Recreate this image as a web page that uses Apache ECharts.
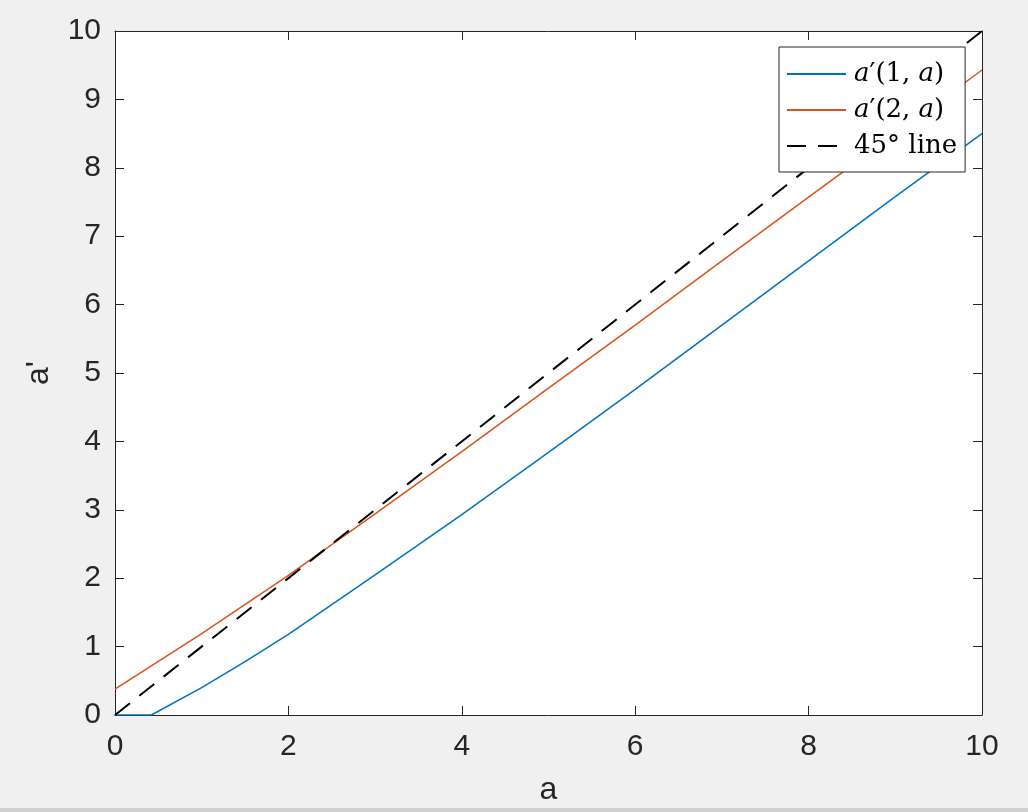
<!DOCTYPE html>
<html>
<head>
<meta charset="utf-8">
<script src="https://cdn.jsdelivr.net/npm/echarts@6/dist/echarts.min.js"></script>
<style>
html,body{margin:0;padding:0;background:#f0f0f0;}
#c{width:1028px;height:812px;}
</style>
</head>
<body>
<div id="c"></div>
<script>
// a'(1,a) policy values
const a1Points = [[0,0],[0.42,0],[1,0.4],[1.5,0.78],[2,1.18],[3,2.05],[4,2.93],[5,3.84],[6,4.76],[7,5.7],[8,6.64],[9,7.58],[10,8.5]];
// a'(2,a) policy values
const a2Points = [[0,0.38],[1,1.19],[2,2.04],[3,2.94],[4,3.85],[5,4.78],[6,5.7],[7,6.64],[8,7.57],[9,8.5],[10,9.43]];
// 45 degree line
const diagPoints = [[0,0],[10,10]];
const xTicks = [0,2,4,6,8,10];
const yTicks = [0,1,2,3,4,5,6,7,8,9,10];
const seriesNames = ["a1", "a2", "diag"];

const chart = echarts.init(document.getElementById('c'), null, {renderer:'canvas'});
const axisColor = '#262626';
const tickFont = {fontFamily:'Liberation Sans, Arial, sans-serif', fontSize:30, color:axisColor};
const serif = 'DejaVu Serif, Liberation Serif, serif';

function xAx(pos, show){
  return {
    type:'value', position:pos, min:xTicks[0], max:xTicks[xTicks.length-1], interval:2,
    axisLine:{show:true, onZero:false, lineStyle:{color:axisColor, width:1}},
    axisTick:{show:true, inside:true, length:9, lineStyle:{color:axisColor}},
    axisLabel:Object.assign({show:show, margin:17}, tickFont),
    splitLine:{show:false},
    name: show ? 'a' : '', nameLocation:'middle', nameGap:59,
    nameTextStyle:{fontFamily:'Liberation Sans, Arial, sans-serif', fontSize:32, color:axisColor}
  };
}
function yAx(pos, show){
  return {
    type:'value', position:pos, min:yTicks[0], max:yTicks[yTicks.length-1], interval:1,
    axisLine:{show:true, onZero:false, lineStyle:{color:axisColor, width:1}},
    axisTick:{show:true, inside:true, length:9, lineStyle:{color:axisColor}},
    axisLabel:Object.assign({show:show, margin:14}, tickFont),
    splitLine:{show:false},
    name: show ? "a'" : '', nameLocation:'middle', nameGap:60, nameRotate:90,
    nameTextStyle:{fontFamily:'Liberation Sans, Arial, sans-serif', fontSize:32, color:axisColor}
  };
}

const richStyles = {
  i:{fontFamily:serif, fontStyle:'italic', fontSize:26, color:'#000'},
  r:{fontFamily:serif, fontSize:26, color:'#000'}
};
const legendText = {
  a1: '{i|a}{r|′(1, }{i|a}{r|)}',
  a2: '{i|a}{r|′(2, }{i|a}{r|)}',
  diag: '{r|45° line}'
};

chart.setOption({
  animation:false,
  backgroundColor:'#f0f0f0',
  grid:{left:115, right:46, top:31, bottom:97, show:true, backgroundColor:'#ffffff', borderWidth:0, outerBoundsMode:'none', containLabel:false},
  xAxis:[xAx('bottom', true), xAx('top', false)],
  yAxis:[yAx('left', true), yAx('right', false)],
  legend:{
    show:true, orient:'vertical', left:779, top:47,
    backgroundColor:'#ffffff', borderColor:'#262626', borderWidth:1,
    padding:[14,8,13,7], itemWidth:59, itemHeight:14, itemGap:10,
    itemStyle:{opacity:0, borderWidth:0},
    textStyle:{rich:richStyles, lineHeight:26, padding:[0,0,0,3]},
    formatter:function(n){return legendText[n];},
    data:seriesNames
  },
  graphic:[{type:'rect', shape:{x:0,y:808,width:1028,height:4}, style:{fill:'#cfcfcf'}, silent:true}],
  series:[
    {name:seriesNames[0], type:'line', data:a1Points, showSymbol:false, symbol:'none',
     lineStyle:{color:'#0072BD', width:1.5}, itemStyle:{color:'#0072BD'}},
    {name:seriesNames[1], type:'line', data:a2Points, showSymbol:false, symbol:'none',
     lineStyle:{color:'#D95319', width:1.5}, itemStyle:{color:'#D95319'}},
    {name:seriesNames[2], type:'line', data:diagPoints, showSymbol:false, symbol:'none',
     lineStyle:{color:'#000000', width:2, type:[19,12]}, itemStyle:{color:'#000000'}}
  ]
});
</script>
</body>
</html>
